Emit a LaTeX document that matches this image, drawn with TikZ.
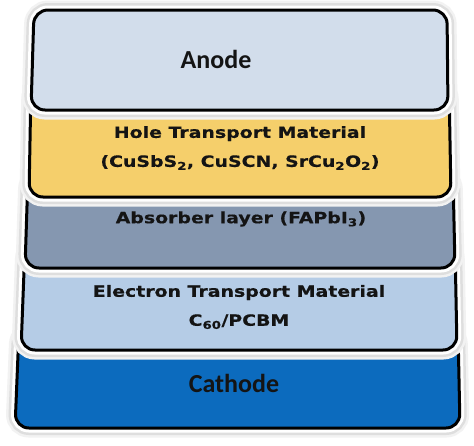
\documentclass[tikz,border=0pt]{standalone}
\usepackage{fontspec}
\newfontfamily\wfont{DejaVu Sans}[FakeStretch=1.22, FakeBold=0.5]
\newfontfamily\cfont{Carlito}
\definecolor{anodec}{HTML}{D2DDEB}
\definecolor{htmc}{HTML}{F5CF6B}
\definecolor{absc}{HTML}{8597B0}
\definecolor{etmc}{HTML}{B5CCE6}
\definecolor{cathc}{HTML}{0C6BBE}
\tikzset{
  layershadowa/.style={draw=black!5, line width=19pt, rounded corners=14pt},
  layershadowb/.style={draw=black!13, line width=14pt, rounded corners=14pt},
  layerwhite/.style={draw=white, line width=9pt, rounded corners=14pt},
  layerbody/.style={draw=black, line width=3pt, rounded corners=14pt},
  wtext/.style={font=\wfont\bfseries\fontsize{15.5}{29}\selectfont, align=center, text=black!92, inner sep=0pt},
  ctext/.style={font=\cfont\bfseries\fontsize{26}{30}\selectfont, text=black!92, inner sep=0pt},
}
% #1 colour, #2 top y, #3 bottom y, #4 left top x, #5 left bottom x, #6 right top x, #7 right bottom x
\newcommand\drawlayer[7]{%
  \path[layershadowa] (#4,#2) -- (#6,#2) -- (#7,#3) -- (#5,#3) -- cycle;
  \path[layershadowb] (#4,#2) -- (#6,#2) -- (#7,#3) -- (#5,#3) -- cycle;
  \path[layerwhite] (#4,#2) -- (#6,#2) -- (#7,#3) -- (#5,#3) -- cycle;
  \path[layerbody, fill=#1] (#4,#2) -- (#6,#2) -- (#7,#3) -- (#5,#3) -- cycle;
}
\begin{document}
\begin{tikzpicture}[x=1pt, y=-1pt]
\fill[white] (0,0) rectangle (474,445);
\useasboundingbox (0,0) rectangle (474,445);
% layers from bottom to top
\drawlayer{cathc}{330}{428}{19}{15}{458}{460}
\drawlayer{etmc}{245}{350}{25}{21}{455}{457}
\drawlayer{absc}{175}{268}{28}{25}{453}{455}
\drawlayer{htmc}{85}{197}{31}{29}{449}{451}
\drawlayer{anodec}{10}{110}{34}{31}{447}{448}
% texts
\node[ctext] (anode) at (216,59) {Anode};
\node[wtext] (htm) at (240,148) {Hole Transport Material\\(CuSbS\textsubscript{2}, CuSCN, SrCu\textsubscript{2}O\textsubscript{2})};
\node[wtext] (abs) at (241,219) {Absorber layer (FAPbI\textsubscript{3})};
\node[wtext] (etm) at (239,307) {Electron Transport Material\\C\textsubscript{60}/PCBM};
\node[ctext] (cath) at (234,383) {Cathode};
\end{tikzpicture}
\end{document}
